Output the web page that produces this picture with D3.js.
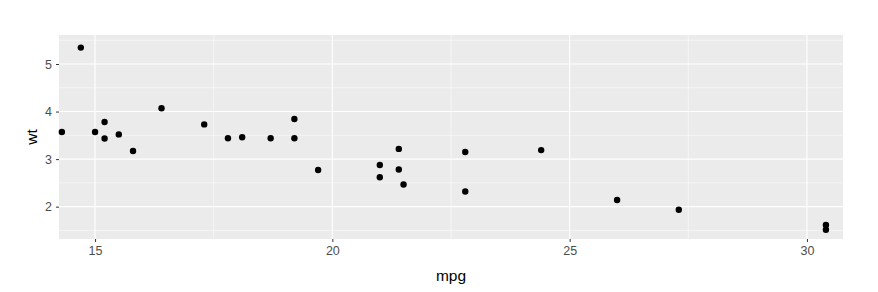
<html>
<head>
<script src="https://d3js.org/d3.v7.min.js"></script>
<style>
  body { margin: 0; background: #fff; }
  text { font-family: "Liberation Sans", Arial, sans-serif; }
</style>
</head>
<body>
<div id="chart"></div>
<script>
// mtcars points visible in the panel
var mpg = [21.0, 21.0, 22.8, 21.4, 18.7, 18.1, 14.3, 24.4, 22.8, 19.2, 17.8, 16.4, 17.3, 15.2,
           14.7, 30.4, 21.5, 15.5, 15.2, 19.2, 27.3, 26.0, 30.4, 15.8, 19.7, 15.0, 21.4];
var wt  = [2.620, 2.875, 2.320, 3.215, 3.440, 3.460, 3.570, 3.190, 3.150, 3.440, 3.440, 4.070, 3.730, 3.780,
           5.345, 1.615, 2.465, 3.520, 3.435, 3.845, 1.935, 2.140, 1.513, 3.170, 2.770, 3.570, 2.780];
var xTicks = [15, 20, 25, 30];
var yTicks = [2, 3, 4, 5];
var xMinor = [17.5, 22.5, 27.5];
var yMinor = [1.5, 2.5, 3.5, 4.5, 5.5];

var W = 878, H = 292;
var margin = {top: 35, right: 35, bottom: 53, left: 59};
var width = W - margin.left - margin.right,
    height = H - margin.top - margin.bottom;

var svg = d3.select("#chart").append("svg")
  .attr("width", W).attr("height", H);
var g = svg.append("g")
  .attr("transform", "translate(" + margin.left + "," + margin.top + ")");

var x = d3.scaleLinear().domain([14.24, 30.76]).range([0, width]);
var y = d3.scaleLinear().domain([1.32, 5.61]).range([height, 0]);

// panel
g.append("rect").attr("width", width).attr("height", height).attr("fill", "#EBEBEB");

// minor grid
g.selectAll(".xminor").data(xMinor).enter().append("line")
  .attr("x1", d => x(d)).attr("x2", d => x(d)).attr("y1", 0).attr("y2", height)
  .attr("stroke", "#fff").attr("stroke-width", 0.5);
g.selectAll(".yminor").data(yMinor).enter().append("line")
  .attr("x1", 0).attr("x2", width).attr("y1", d => y(d)).attr("y2", d => y(d))
  .attr("stroke", "#fff").attr("stroke-width", 0.5);

// major grid
g.selectAll(".xmajor").data(xTicks).enter().append("line")
  .attr("x1", d => x(d)).attr("x2", d => x(d)).attr("y1", 0).attr("y2", height)
  .attr("stroke", "#fff").attr("stroke-width", 1.1);
g.selectAll(".ymajor").data(yTicks).enter().append("line")
  .attr("x1", 0).attr("x2", width).attr("y1", d => y(d)).attr("y2", d => y(d))
  .attr("stroke", "#fff").attr("stroke-width", 1.1);

// axes
var xAxis = g.append("g").attr("transform", "translate(0," + height + ")")
  .call(d3.axisBottom(x).tickValues(xTicks).tickFormat(d3.format("d")).tickSize(3).tickPadding(4));
var yAxis = g.append("g")
  .call(d3.axisLeft(y).tickValues(yTicks).tickFormat(d3.format("d")).tickSize(3).tickPadding(4));
[xAxis, yAxis].forEach(function(a) {
  a.select(".domain").remove();
  a.selectAll(".tick line").attr("stroke", "#333333");
  a.selectAll(".tick text").attr("fill", "#4D4D4D").style("font-size", "12.5px");
});

// points
g.selectAll("circle").data(mpg).enter().append("circle")
  .attr("cx", (d, i) => x(d))
  .attr("cy", (d, i) => y(wt[i]))
  .attr("r", 3.2)
  .attr("fill", "#000");

// axis titles
svg.append("text")
  .attr("x", margin.left + width / 2).attr("y", 281)
  .attr("text-anchor", "middle").style("font-size", "15.5px").attr("fill", "#000")
  .text("mpg");
svg.append("text")
  .attr("transform", "translate(37," + (margin.top + height / 2) + ") rotate(-90)")
  .attr("text-anchor", "middle").style("font-size", "15.5px").attr("fill", "#000")
  .text("wt");
</script>
</body>
</html>
